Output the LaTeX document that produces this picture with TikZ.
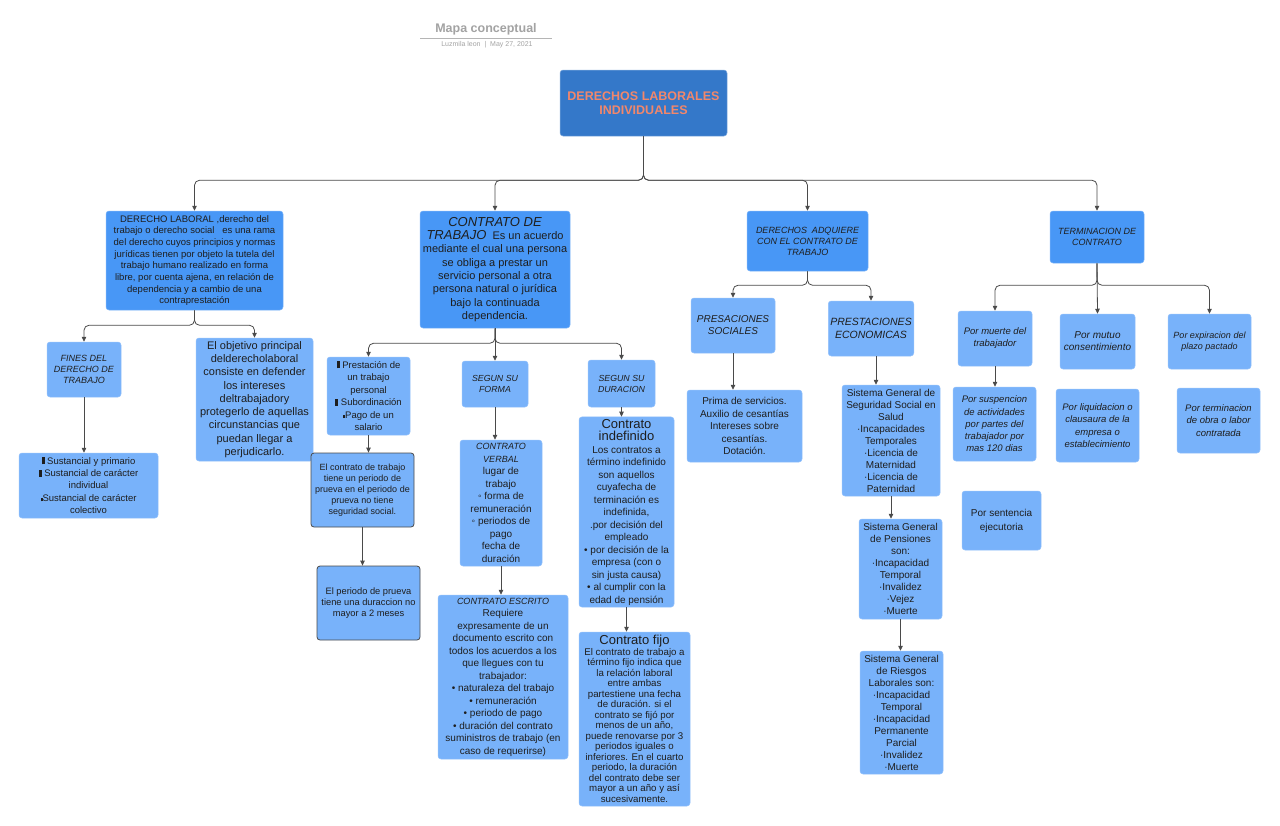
\documentclass[tikz,border=0pt]{standalone}
\usepackage{fontspec}
\setmainfont{Liberation Sans}
\usetikzlibrary{arrows.meta,positioning}
\definecolor{dlRoot}{HTML}{3478C9}
\definecolor{dlMain}{HTML}{4897F6}
\definecolor{dlSub}{HTML}{78B2FA}
\definecolor{dlInk}{HTML}{1E1E1E}
\definecolor{dlLine}{HTML}{4A4A4A}
\definecolor{dlCoral}{HTML}{F2876B}
\definecolor{dlGray}{HTML}{A3A3A3}
\newcommand{\fsz}[2]{\fontsize{#1}{#2}\selectfont}
\newcommand{\bulmk}{\rule{3pt}{7pt}}
\newcommand{\sbulmk}{\rule{2pt}{3pt}}
\tikzset{
  box/.style      ={rounded corners=3pt,align=center,inner sep=2pt,text=dlInk,line width=0.5pt},
  rootbox/.style  ={box,fill=dlRoot,draw=dlRoot!60!white,text=dlCoral},
  mainbox/.style  ={box,fill=dlMain,draw=dlMain!70!white},
  subbox/.style   ={box,fill=dlSub,draw=dlSub!80!white},
  darkbox/.style  ={box,fill=dlSub,draw=dlLine,line width=0.8pt},
  conn/.style     ={-{Triangle[length=5pt,width=4.5pt]},draw=dlLine,line width=0.8pt},
  bus/.style      ={conn,rounded corners=5pt},
  ttl/.style      ={text=dlGray,inner sep=0pt},
}
\begin{document}
\begin{tikzpicture}[x=1pt,y=-1pt]
\useasboundingbox[fill=white] (0,0) rectangle (1280,825);
%% title block
\node[ttl,font=\fsz{12.5}{14}\bfseries] (title) at (486,29) {Mapa conceptual};
\draw[dlGray!80,line width=0.8pt] (420,38) -- (552,38);
\node[ttl,font=\fsz{7}{8}] (sub) at (487,44.5) {Luzmila leon \ | \ May 27, 2021};

%% root and first level
\node[rootbox,minimum width=167,minimum height=66,font=\fsz{12.5}{14}\bfseries] (root) at (643.5,103)
  {DERECHOS LABORALES\\INDIVIDUALES};
\node[mainbox,minimum width=177,minimum height=99,font=\fsz{9.5}{11.7}] (dl) at (194.5,260.5)
  {DERECHO LABORAL ,derecho del\\trabajo o derecho social \ \ es una rama\\del derecho cuyos principios y normas\\
   jurídicas tienen por objeto la tutela del\\trabajo humano realizado en forma\\libre, por cuenta ajena, en relación de\\
   dependencia y a cambio de una\\contraprestación};
\node[mainbox,minimum width=150,minimum height=117,font=\fsz{11}{13.3}] (ct) at (495,269.5)
  {{\fsz{13}{15}\itshape CONTRATO DE}\\{\fsz{13}{14}\itshape TRABAJO}\ \ Es un acuerdo\\mediante el cual una persona\\
   se obliga a prestar un\\servicio personal a otra\\persona natural o jurídica\\bajo la continuada\\dependencia.};
\node[mainbox,minimum width=121,minimum height=60,font=\fsz{9}{11}\itshape] (da) at (807.5,241)
  {DERECHOS \ ADQUIERE\\CON EL CONTRATO DE\\TRABAJO};
\node[mainbox,minimum width=94,minimum height=52,font=\fsz{9}{11}\itshape] (tc) at (1097,237)
  {TERMINACION DE\\CONTRATO};

%% derecho laboral branch
\node[subbox,minimum width=74,minimum height=55,font=\fsz{9}{11}\itshape] (fines) at (84,369.5)
  {FINES DEL\\DERECHO DE\\TRABAJO};
\node[subbox,minimum width=117,minimum height=123,font=\fsz{11}{13.3}] (obj) at (254.5,399.5)
  {El objetivo principal\\delderecholaboral\\consiste en defender\\los intereses\\deltrabajadory\\
   protegerlo de aquellas\\circunstancias que\\puedan llegar a\\perjudicarlo.};
\node[subbox,minimum width=139,minimum height=65,font=\fsz{9.5}{12.3}] (sust) at (88.5,485.5)
  {\bulmk{} Sustancial y primario\\\bulmk{} Sustancial de carácter\\individual\\\sbulmk{}Sustancial de carácter\\colectivo};

%% contrato de trabajo branch
\node[subbox,minimum width=83,minimum height=78,font=\fsz{9.5}{12.4}] (prest) at (368.5,396)
  {\bulmk{} Prestación de\\un trabajo\\personal\\\bulmk{} Subordinación\\\sbulmk{}Pago de un\\salario};
\node[subbox,minimum width=66,minimum height=46,font=\fsz{8.8}{11}\itshape] (forma) at (495,384)
  {SEGUN SU\\FORMA};
\node[subbox,minimum width=67,minimum height=47,font=\fsz{8.8}{11}\itshape] (durac) at (621.5,383.5)
  {SEGUN SU\\DURACION};
\node[darkbox,minimum width=103,minimum height=74,font=\fsz{9}{11}] (prueba) at (362.5,490)
  {El contrato de trabajo\\tiene un periodo de\\prueva en el periodo de\\prueva no tiene\\seguridad social.};
\node[darkbox,minimum width=103,minimum height=74,font=\fsz{9.3}{11}] (periodo) at (368.5,603)
  {El periodo de prueva\\tiene una duraccion no\\mayor a 2 meses};
\node[subbox,minimum width=82,minimum height=126,font=\fsz{10}{12.5}] (verbal) at (501,503)
  {{\fsz{9}{11}\itshape CONTRATO}\\{\fsz{9}{11}\itshape VERBAL}\\lugar de\\trabajo\\◦ forma de\\remuneración\\
   ◦ periodos de\\pago\\fecha de\\duración};
\node[subbox,minimum width=130,minimum height=164,font=\fsz{10}{12.5}] (escrito) at (503,677)
  {{\fsz{9}{11}\itshape CONTRATO ESCRITO}\\Requiere\\expresamente de un\\documento escrito con\\
   todos los acuerdos a los\\que llegues con tu\\trabajador:\\• naturaleza del trabajo\\• remuneración\\
   • periodo de pago\\• duración del contrato\\suministros de trabajo (en\\caso de requerirse)};
\node[subbox,minimum width=95,minimum height=190,font=\fsz{10}{12.5}] (indef) at (626.5,512)
  {{\fsz{13}{12}Contrato}\\{\fsz{13}{12}indefinido}\\Los contratos a\\término indefinido\\son aquellos\\
   cuyafecha de\\terminación es\\indefinida,\\.por decisión del\\empleado\\• por decisión de la\\
   empresa (con o\\sin justa causa)\\• al cumplir con la\\edad de pensión};
\node[subbox,minimum width=111,minimum height=174,font=\fsz{9.7}{10.5}] (fijo) at (634.5,719)
  {{\fsz{13}{12}Contrato fijo}\\El contrato de trabajo a\\término fijo indica que\\la relación laboral\\
   entre ambas\\partestiene una fecha\\de duración. si el\\contrato se fijó por\\menos de un año,\\
   puede renovarse por 3\\periodos iguales o\\inferiores. En el cuarto\\periodo, la duración\\
   del contrato debe ser\\mayor a un año y así\\sucesivamente.};

%% derechos adquiere branch
\node[subbox,minimum width=84,minimum height=55,font=\fsz{10}{12}\itshape] (psoc) at (733,325.5)
  {PRESACIONES\\SOCIALES};
\node[subbox,minimum width=78,minimum height=55,font=\fsz{10.5}{12.5}\itshape] (peco) at (871,328.5)
  {PRESTACIONES\\ECONOMICAS};
\node[subbox,minimum width=115,minimum height=72,font=\fsz{10}{12.5}] (prima) at (744.5,426)
  {Prima de servicios.\\Auxilio de cesantías\\Intereses sobre\\cesantías.\\Dotación.};
\node[subbox,minimum width=98,minimum height=111,font=\fsz{10}{12}] (salud) at (891,440.5)
  {Sistema General de\\Seguridad Social en\\Salud\\·Incapacidades\\Temporales\\·Licencia de\\
   Maternidad\\·Licencia de\\Paternidad};
\node[subbox,minimum width=83,minimum height=100,font=\fsz{10}{12}] (pension) at (900.5,569)
  {Sistema General\\de Pensiones\\son:\\·Incapacidad\\Temporal\\·Invalidez\\·Vejez\\·Muerte};
\node[subbox,minimum width=83,minimum height=123,font=\fsz{10}{12}] (riesgo) at (901.5,712.5)
  {Sistema General\\de Riesgos\\Laborales son:\\·Incapacidad\\Temporal\\·Incapacidad\\Permanente\\
   Parcial\\·Invalidez\\·Muerte};

%% terminacion branch
\node[subbox,minimum width=74,minimum height=55,font=\fsz{9.5}{12}\itshape] (muerte) at (995,338.5)
  {Por muerte del\\trabajador};
\node[subbox,minimum width=75,minimum height=55,font=\fsz{10}{12}\itshape] (mutuo) at (1097.5,341.5)
  {Por mutuo\\consentimiento};
\node[subbox,minimum width=83,minimum height=55,font=\fsz{9}{11}\itshape] (expir) at (1209.5,341.5)
  {Por expiracion del\\plazo pactado};
\node[subbox,minimum width=83,minimum height=74,font=\fsz{9.5}{12.2}\itshape] (suspen) at (994.5,424)
  {Por suspencion\\de actividades\\por partes del\\trabajador por\\mas 120 dias};
\node[subbox,minimum width=83,minimum height=73,font=\fsz{9.5}{12.2}\itshape] (liquid) at (1097.5,425.5)
  {Por liquidacion o\\clausaura de la\\empresa o\\establecimiento};
\node[subbox,minimum width=83,minimum height=65,font=\fsz{9.5}{12.2}\itshape] (termobra) at (1218.5,420.5)
  {Por terminacion\\de obra o labor\\contratada};
\node[subbox,minimum width=79,minimum height=59,font=\fsz{10}{14}] (sentencia) at (1001.5,520.5)
  {Por sentencia\\ejecutoria};

%% connectors
\foreach \c in {dl,ct,da,tc}
  \draw[bus] (root.south) -- ++(0,44) -| (\c.north);
\foreach \c in {fines,obj}
  \draw[bus] (dl.south) -- ++(0,15) -| (\c.north);
\foreach \c in {prest,durac}
  \draw[bus] (ct.south) -- ++(0,15) -| (\c.north);
\draw[conn] (ct.south) -- (forma.north);
\foreach \c in {psoc,peco}
  \draw[bus] (da.south) -- ++(0,14) -| (\c.north);
\foreach \c in {muerte,expir}
  \draw[bus] (tc.south) -- ++(0,22) -| (\c.north);
\draw[conn] (tc.south) -- (mutuo.north);
\foreach \a/\b in {fines/sust,prest/prueba,prueba/periodo,forma/verbal,verbal/escrito,
                   durac/indef,indef/fijo,psoc/prima,salud/pension,pension/riesgo,muerte/suspen}
  \draw[conn] (\a.south) -- (\a.south |- \b.north);
\draw[conn] ([xshift=5pt]peco.south) -- ([xshift=5pt]peco.south |- salud.north);
\end{tikzpicture}
\end{document}
